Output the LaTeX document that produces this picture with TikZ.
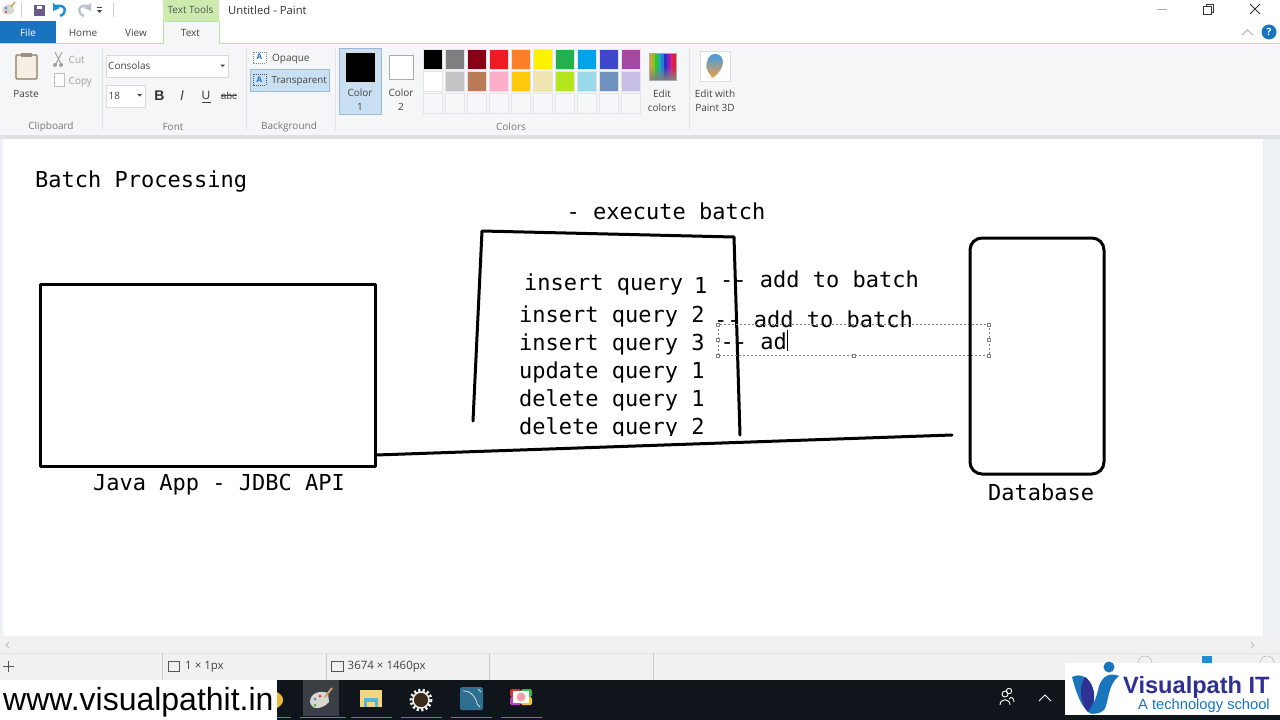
\documentclass[tikz,border=0pt]{standalone}
\usepackage{fontspec}
\setmainfont{Open Sans}
\newfontfamily\consfont{DejaVu Sans Mono}
\newfontfamily\arialfont{Liberation Sans}
\newcommand\hxc[1]{\definecolor{c#1}{HTML}{#1}}
\hxc{DDE1E6}\hxc{EDF0F4}\hxc{F1F1F1}\hxc{E3E3E3}\hxc{555555}\hxc{6A5B8C}\hxc{1E8FD5}\hxc{B8C4CE}
\hxc{444444}\hxc{CCCCCC}\hxc{C9A46A}\hxc{5B8EC9}\hxc{AAAAAA}\hxc{333333}\hxc{BBBBBB}\hxc{8C7B5E}
\hxc{F4EFE2}\hxc{9A8F80}\hxc{A0A0A0}\hxc{C0C0C0}\hxc{DADADA}\hxc{888888}\hxc{DDDDDD}\hxc{3F9BE8}
\hxc{E0405A}\hxc{F7F8F9}\hxc{3A3F45}\hxc{F0B93A}\hxc{F5D680}\hxc{B040A0}\hxc{F0A040}
\hxc{4FB8E0}\hxc{D8D8D0}\hxc{3B2A1A}\hxc{2F6F8F}\hxc{D0342C}\hxc{3BB44A}\hxc{F2C230}\hxc{5A78C8}\hxc{C040C0}
\hxc{000000}\hxc{7F7F7F}\hxc{880015}\hxc{ED1C24}\hxc{FF7F27}\hxc{FFF200}\hxc{22B14C}\hxc{00A2E8}\hxc{3F48CC}\hxc{A349A4}
\hxc{FFFFFF}\hxc{C3C3C3}\hxc{B97A57}\hxc{FFAEC9}\hxc{FFC90E}\hxc{EFE4B0}\hxc{B5E61D}\hxc{99D9EA}\hxc{7092BE}\hxc{C8BFE7}
\hxc{D8A040}\hxc{90C020}\hxc{30C040}\hxc{20B0A0}\hxc{2080E0}\hxc{3030C0}\hxc{8020C0}\hxc{D02080}\hxc{E02030}\hxc{808080}
\definecolor{ribbonbg}{HTML}{F5F6F7}
\definecolor{ribbonsep}{HTML}{E2E4E7}
\definecolor{greenline}{HTML}{BDE59A}
\definecolor{tabgreen}{HTML}{CDEBAE}
\definecolor{uitext}{HTML}{444444}
\definecolor{uigrey}{HTML}{777777}
\definecolor{filblue}{HTML}{1A73C0}
\definecolor{selblue}{HTML}{C9DFF2}
\definecolor{selborder}{HTML}{9DB8D2}
\definecolor{navy}{HTML}{2E3192}
\definecolor{logoblue}{HTML}{1B75BC}
\definecolor{taskbar}{HTML}{10151B}
\tikzset{
  x=1pt,y=-1pt,
  ui/.style={font=\fontsize{10}{12}\selectfont,text=uitext,inner sep=0pt,yshift=-1pt},
  uigray/.style={font=\fontsize{10}{12}\selectfont,text=uigrey,inner sep=0pt,yshift=-1pt},
  tabtext/.style={font=\fontsize{10}{12}\selectfont,text=uitext,inner sep=0pt,yshift=-1pt},
  statustext/.style={font=\fontsize{11.5}{12}\selectfont,text=uitext,inner sep=0pt,anchor=west},
  mono/.style={font=\consfont\fontsize{22}{24}\selectfont,text=black,inner sep=0pt,anchor=base west},
  ink/.style={draw=black,line width=3pt,line cap=round,line join=round},
  swatch/.style={draw=ribbonsep,line width=0.7pt},
  handle/.style={draw=gray,fill=white,line width=0.5pt},
  sel/.style={draw=gray,line width=0.6pt,dash pattern=on 2pt off 2pt}
}
\begin{document}
\begin{tikzpicture}
\useasboundingbox (0,0) rectangle (1280,720);
% backgrounds
\fill[white] (0,0) rectangle (1280,44);
\fill[ribbonbg] (0,44) rectangle (1280,135);
\fill[cDDE1E6] (0,135) rectangle (1280,139);
\fill[cEDF0F4] (0,139) rectangle (1280,636);
\fill[white] (3,139) rectangle (1263,636);
\fill[cF1F1F1] (0,636) rectangle (1280,680);
\draw[cE3E3E3,line width=0.6pt] (0,653) -- (1280,653);
% title bar
\fill[tabgreen] (163,0) rectangle (219,21);
\node[ui,text=c555555] (toolstitle) at (190.5,9) {Text Tools};
\node[font=\fontsize{11.3}{13}\selectfont,text=black!80,inner sep=0pt,anchor=west] (title) at (228,10) {Untitled - Paint};
\fill[filblue] (0,21) rectangle (56,43);
\node[tabtext,text=white] (filetab) at (28,32) {File};
\node[tabtext] (hometab) at (83,32) {Home};
\node[tabtext] (viewtab) at (136,32) {View};
\fill[ribbonbg] (163,21) rectangle (219,44);
\node[tabtext] (texttab) at (190.5,32) {Text};
\draw[greenline,line width=1pt] (0,43.5) -- (163,43.5) -- (163,21) -- (219,21) -- (219,43.5) -- (1280,43.5);
% quick access
\fill[c6A5B8C] (34,5) rectangle (45,16);
\fill[white] (37,5.5) rectangle (42,9);
\draw[c1E8FD5,line width=2.4pt] (56,6) .. controls (66,4) and (68,13) .. (60,16);
\fill[c1E8FD5] (53,3) -- (53,11) -- (60,8) -- cycle;
\draw[cB8C4CE,line width=2.4pt] (88,6) .. controls (78,4) and (76,13) .. (84,16);
\fill[cB8C4CE] (91,3) -- (91,11) -- (84,8) -- cycle;
\fill[c444444] (97,10) -- (102,10) -- (99.5,13) -- cycle;
\draw[c444444,line width=0.7pt] (97,7.5) -- (102,7.5);
\draw[cCCCCCC,line width=0.7pt] (21,3) -- (21,17);
\draw[cCCCCCC,line width=0.7pt] (113,3) -- (113,17);
\fill[cD8D8D0] (2,10) .. controls (3,5) and (9,3) .. (13,5) -- (14,12) .. controls (10,16) and (3,16) .. (2,10);
\draw[cC9A46A,line width=1.5pt] (11,7) -- (15,2);
\fill[c5B8EC9] (6,8) circle (1.5);
\fill[cD0342C] (6,12) circle (1.2);
% window buttons
\draw[cAAAAAA,line width=1pt] (1157,9) -- (1167,9);
\draw[c333333,line width=0.8pt] (1203.5,6.5) rectangle (1211,14);
\draw[c333333,line width=0.8pt] (1206,6.5) -- (1206,4.5) -- (1213,4.5) -- (1213,12) -- (1211,12);
\draw[c333333,line width=0.8pt] (1250,4) -- (1260,14) (1260,4) -- (1250,14);
\draw[cBBBBBB,line width=1.2pt] (1242,35) -- (1247.5,30) -- (1253,35);
\node[circle,fill=filblue,minimum size=15pt,inner sep=0pt,text=white,font=\bfseries\fontsize{10}{10}\selectfont] (help) at (1269,32) {?};
% clipboard group
\draw[c8C7B5E,fill=cF4EFE2,line width=1.4pt,rounded corners=1pt] (16,55) rectangle (37,79);
\fill[c9A8F80] (21,52.5) rectangle (32,57);
\node[ui] (paste) at (26,93) {Paste};
\draw[cA0A0A0,line width=1pt] (55,52) -- (61,64) (62,52) -- (56,64);
\fill[cA0A0A0] (55,65) circle (2) (61,65) circle (2);
\node[uigray,anchor=west,text=cA0A0A0] (cut) at (68.5,59) {Cut};
\draw[cC0C0C0,line width=0.7pt,fill=white] (54,73) rectangle (64,86);
\node[uigray,anchor=west,text=cA0A0A0] (copy) at (68.5,81) {Copy};
\node[ui,text=uigrey] (clipboard) at (51,126) {Clipboard};
\draw[ribbonsep,line width=0.7pt] (102,48) -- (102,130);
% font group
\draw[cDADADA,fill=white,line width=0.7pt] (106,55) rectangle (228.5,77);
\node[ui,anchor=west] (fontname) at (108,65) {Consolas};
\fill[c444444] (220,64.5) -- (225,64.5) -- (222.5,67) -- cycle;
\draw[cDADADA,fill=white,line width=0.7pt] (106,85) rectangle (145,107);
\node[ui,anchor=west] (fontsize) at (108.5,94.5) {18};
\fill[c444444] (137,94) -- (142,94) -- (139.5,96.5) -- cycle;
\node[inner sep=0pt,font=\arialfont\bfseries\fontsize{14}{14}\selectfont,text=c333333] (boldb) at (159.5,96) {B};
\node[inner sep=0pt,font=\arialfont\itshape\fontsize{14}{14}\selectfont,text=c444444] (itali) at (182,96) {I};
\node[inner sep=0pt,font=\arialfont\fontsize{12}{12}\selectfont,text=c444444] (under) at (206,95.5) {U};
\draw[c444444,line width=0.6pt] (202,102.5) -- (211,102.5);
\node[inner sep=0pt,font=\arialfont\fontsize{10}{10}\selectfont,text=c444444] (strike) at (229,95.5) {abc};
\draw[c444444,line width=0.6pt] (221,95.5) -- (237,95.5);
\node[ui,text=uigrey] (fontgrp) at (173,126) {Font};
\draw[ribbonsep,line width=0.7pt] (246,48) -- (246,130);
% background group
\draw[c888888,fill=white,line width=0.5pt,dash pattern=on 1pt off 1pt] (253,52) rectangle (266,63);
\node[inner sep=0pt,font=\bfseries\fontsize{8}{8}\selectfont,text=filblue] (opqa) at (259.5,57) {A};
\node[ui,anchor=west] (opaque) at (272,58) {Opaque};
\fill[selblue] (250,69.5) rectangle (329,91);
\draw[selborder,line width=0.5pt] (250,69.5) rectangle (329,91);
\draw[c555555,line width=0.5pt,dash pattern=on 1pt off 1pt] (253,74) rectangle (266,85);
\node[inner sep=0pt,font=\bfseries\fontsize{8}{8}\selectfont,text=filblue] (tra) at (259.5,79.5) {A};
\node[ui,anchor=west,font=\fontsize{9.8}{12}\selectfont] (transparent) at (271.5,80) {Transparent};
\node[ui,text=uigrey] (backgrp) at (289,126) {Background};
\draw[ribbonsep,line width=0.7pt] (335,48) -- (335,130);
% colour selectors
\fill[selblue] (339,48) rectangle (381,114);
\draw[selborder,line width=0.7pt] (339,48) rectangle (381,114);
\draw[white!70!gray,fill=black,line width=1pt] (345,52) rectangle (375,82);
\node[ui,align=center,font=\fontsize{10}{14}\selectfont] (colorone) at (360,99) {Color\\1};
\draw[cAAAAAA,fill=white,line width=0.7pt] (389,55) rectangle (413,79);
\node[ui,align=center,font=\fontsize{10}{14}\selectfont] (colortwo) at (401,99) {Color\\2};
% palette
\foreach \c [count=\i from 0] in {000000,7F7F7F,880015,ED1C24,FF7F27,FFF200,22B14C,00A2E8,3F48CC,A349A4}
  \path[swatch,fill=c\c] ({423+22*\i},49.5) rectangle +(19.5,19.5);
\foreach \c [count=\i from 0] in {FFFFFF,C3C3C3,B97A57,FFAEC9,FFC90E,EFE4B0,B5E61D,99D9EA,7092BE,C8BFE7}
  \path[swatch,fill=c\c] ({423+22*\i},71.5) rectangle +(19.5,19.5);
\foreach \i in {0,...,9}
  \path[swatch,fill=cF7F8F9] ({423+22*\i},93.5) rectangle +(19.5,19.5);
\node[ui,text=uigrey] (colorsgrp) at (511,126) {Colors};
% edit colours
\foreach \c [count=\i from 0] in {D8A040,90C020,30C040,20B0A0,2080E0,3030C0,8020C0,D02080,E02030}
  \shade[top color=c\c,bottom color=c808080,middle color=c\c] ({649+3*\i},53) rectangle +(3.05,27);
\draw[cAAAAAA,line width=0.7pt] (649,53) rectangle (676,80);
\node[ui,align=center,font=\fontsize{10}{14}\selectfont] (editcolors) at (662,100) {Edit\\colors};
\draw[ribbonsep,line width=0.7pt] (689,48) -- (689,130);
\draw[cDDDDDD,fill=white,line width=0.7pt] (700,51) rectangle (730,81);
\shade[top color=c3F9BE8,middle color=cB040A0,bottom color=cF0A040] (715,54) .. controls (726,54) and (726,70) .. (712,78) .. controls (711,74) and (704,70) .. (707,62) .. controls (708,57) and (711,54) .. (715,54);
\node[ui,align=center,font=\fontsize{10}{14}\selectfont] (paint3d) at (715,100) {Edit with\\Paint 3D};
% drawing
\node[mono] (batchtitle) at (35,187.5) {Batch Processing};
\node[mono] (execute) at (566.5,219) {- execute batch};
\draw[ink] (473,421) -- (482,231) -- (734,237) -- (740,435);
\node[mono] (qa) at (524,290) {insert query\kern 11pt\raisebox{-3pt}{1}};
\node[mono] (qb) at (519,322) {insert query 2};
\node[mono] (qc) at (519,350) {insert query 3};
\node[mono] (qd) at (519,378) {update query 1};
\node[mono] (qe) at (519,406) {delete query 1};
\node[mono] (qf) at (519,434) {delete query 2};
\fill[white] (515,435.5) rectangle (712,446);
\node[mono] (adda) at (720,287) {-- add to batch};
\node[mono] (addb) at (714,327) {-- add to batch};
\node[mono] (addc) at (720.5,349) {-- ad};
\draw[black,line width=0.8pt] (787.5,330) -- (787.5,351);
\draw[sel] (718,324.5) rectangle (989,355.5);
\foreach \px/\py in {718/324.5,989/324.5,718/340,989/340,718/355.5,854/355.5,989/355.5}
  \path[handle] (\px-1.5,\py-1.5) rectangle +(3,3);
\draw[ink] (40.5,284.5) rectangle (375.5,466);
\node[mono] (javaapp) at (93,490) {Java App - JDBC API};
\coordinate (wireend) at (952,435);
\coordinate (wirestart) at (376,455);
\draw[ink] (wirestart) -- (wireend);
\draw[ink,rounded corners=12pt] (970,238) rectangle (1104,474);
\node[mono] (database) at (988,500) {Database};
% scroll + status
\draw[cBBBBBB,line width=0.8pt] (9,642) -- (6,645) -- (9,648);
\draw[cBBBBBB,line width=0.8pt] (1251,642) -- (1254,645) -- (1251,648);
\draw[c555555,line width=0.6pt] (3,666) -- (14,666) (8.5,660.5) -- (8.5,671.5);
\draw[cCCCCCC,line width=0.6pt] (162,653) -- (162,680) (326,653) -- (326,680) (489,653) -- (489,680) (653,653) -- (653,680);
\draw[c555555,line width=0.6pt] (168,661) rectangle (179,671);
\node[statustext] (sizeone) at (185,666.5) {1 × 1px};
\draw[c555555,line width=0.6pt] (331,661) rectangle (343,671);
\node[statustext] (sizetwo) at (347.5,666.5) {3674 × 1460px};
% taskbar
\fill[taskbar] (0,680) rectangle (1280,720);
\fill[c3A3F45] (303,680) rectangle (339,716);
\fill[white] (0,680) rectangle (277,720);
\node[inner sep=0pt,anchor=base west,font=\arialfont\fontsize{32}{34}\selectfont,text=black] (site) at (3,710) {www.visualpathit.in};
\fill[cF0B93A] (277,692) .. controls (285,696) and (285,704) .. (277,708) -- cycle;
% paint icon
\fill[cD8D8D0] (310,702) .. controls (310,693) and (320,690) .. (328,693) -- (329,702) .. controls (324,708) and (312,712) .. (310,702);
\draw[cC9A46A,line width=2pt] (325,697) -- (332,688);
\fill[c5B8EC9] (315,699) circle (1.7);
\fill[cD0342C] (320,696) circle (1.5);
\fill[c3BB44A] (315,705) circle (1.5);
% folder icon
\fill[cF5D680] (360,690) rectangle (382,707);
\fill[c4FB8E0] (364,698) rectangle (378,707);
\fill[cF5D680] (367,702) rectangle (375,707);
% gear icon
\draw[white!85!gray,line width=3pt,dash pattern=on 2.2pt off 2.2pt] (421,700) circle (10);
\draw[white!85!gray,line width=1.5pt,fill=c3B2A1A] (421,700) circle (8);
% mysql icon
\fill[c2F6F8F,rounded corners=1.5pt] (460,687) rectangle (483,710);
\draw[white!75!c2F6F8F,line width=0.8pt] (463,691) .. controls (470,690) and (474,696) .. (476,700) .. controls (477,704) and (478,706) .. (480,707);
\draw[white!75!c2F6F8F,line width=0.8pt] (478,689) -- (481,692);
% recorder icon
\fill[cD0342C,rounded corners=1.5pt] (510,689) rectangle (521,697);
\fill[c3BB44A,rounded corners=1.5pt] (521,689) rectangle (532,697);
\fill[cC040C0,rounded corners=1.5pt] (510,697) rectangle (521,705);
\fill[cF2C230,rounded corners=1.5pt] (521,697) rectangle (532,705);
\fill[white] (513,691) rectangle (529,703);
\fill[cE0405A!50!white] (521,697) circle (4.5);
\foreach \xa/\xb in {277/291,300/346,351/392,401/442,451/492,501/542}
  \draw[c5A78C8,line width=1pt] (\xa,717.5) -- (\xb,717.5);
\draw[white,line width=0.9pt] (1000,705) .. controls (1000,698) and (1010,698) .. (1010,705);
\draw[white,line width=0.9pt] (1005,694) circle (3);
\draw[white,line width=0.9pt] (1009,699) .. controls (1011,696) and (1014,698) .. (1014,702);
\draw[white,line width=0.9pt] (1009,691) circle (2.7);
\draw[white,line width=1pt] (1039,701) -- (1045,695) -- (1051,701);
% status zoom remnants
\draw[cBBBBBB,line width=0.6pt] (1138,663) arc (180:360:7);
\fill[c1E8FD5] (1202,656) rectangle (1212,663);
\draw[cBBBBBB,line width=0.6pt] (1260,663) arc (180:360:7);
% logo
\fill[white] (1065,663) rectangle (1280,715);
\fill[logoblue] (1072,677) .. controls (1080,673) and (1090,676) .. (1094,692) -- (1094,714) .. controls (1085,714) and (1078,700) .. (1072,677) -- cycle;
\fill[navy] (1085,677) .. controls (1092,682) and (1094,690) .. (1094,697) .. controls (1094,703) and (1091,708) .. (1088,712) .. controls (1082,705) and (1077,690) .. (1085,677) -- cycle;
\fill[logoblue] (1119,676) .. controls (1112,673) and (1103,674) .. (1099,686) .. controls (1097,695) and (1094,705) .. (1088,712) .. controls (1092,715) and (1100,714) .. (1104,710) .. controls (1109,703) and (1107,685) .. (1119,676) -- cycle;
\fill[logoblue] (1109,667) circle (5.5);
\node[inner sep=0pt,anchor=base west,font=\arialfont\bfseries\fontsize{23.6}{24}\selectfont,text=navy] (vpit) at (1123,693) {Visualpath IT};
\node[inner sep=0pt,anchor=base west,font=\arialfont\fontsize{14.7}{16}\selectfont,text=logoblue] (tech) at (1138,709) {A technology school};
\end{tikzpicture}
\end{document}
